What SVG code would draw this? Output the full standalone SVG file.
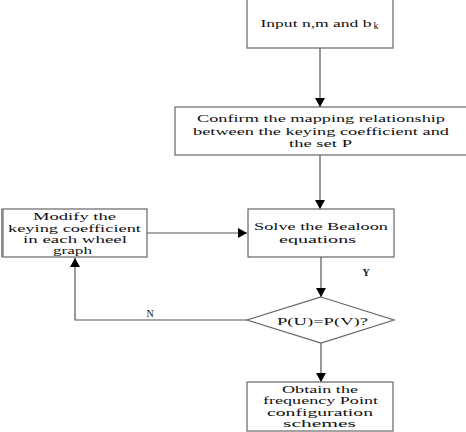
<svg xmlns="http://www.w3.org/2000/svg" width="466" height="432" viewBox="0 0 466 432">
<style>
.box{fill:#fff;stroke:#666;stroke-width:1.2}
.t{font-family:"Liberation Serif","Times New Roman",serif;font-size:10px;fill:#111;text-anchor:middle}
.ln{fill:none;stroke:#555;stroke-width:1.2}
</style>
<defs>
<marker id="ah" markerWidth="10" markerHeight="10" refX="9" refY="5" orient="auto" markerUnits="userSpaceOnUse">
<path d="M0,0 L9,5 L0,10 Z" fill="#000"/>
</marker>
</defs>
<rect width="466" height="432" fill="#fff"/>
<g id="connectors">
<line class="ln" x1="320" y1="48" x2="320" y2="107" marker-end="url(#ah)"/>
<line class="ln" x1="320" y1="155" x2="320" y2="209" marker-end="url(#ah)"/>
<line class="ln" x1="147" y1="233" x2="247" y2="233" marker-end="url(#ah)"/>
<line class="ln" x1="321" y1="257" x2="321" y2="297" marker-end="url(#ah)"/>
<polyline class="ln" points="247,320 75,320 75,258" marker-end="url(#ah)"/>
<line class="ln" x1="321" y1="343" x2="321" y2="382" marker-end="url(#ah)"/>
<text class="t" x="366" y="276" font-weight="bold" font-size="11">Y</text>
<text class="t" x="150" y="317" font-size="11">N</text>
</g>
<g id="input">
<rect class="box" x="247" y="-2" width="146" height="50"/>
<text class="t" x="316" y="27" textLength="111" lengthAdjust="spacingAndGlyphs">Input n,m and b</text>
<text class="t" x="376" y="29" font-size="7">k</text>
</g>
<g id="confirm">
<rect class="box" x="175" y="107" width="300" height="48"/>
<text class="t" x="321" y="122" textLength="248" lengthAdjust="spacingAndGlyphs">Confirm the mapping relationship</text>
<text class="t" x="321" y="134.5" textLength="256" lengthAdjust="spacingAndGlyphs">between the keying coefficient and</text>
<text class="t" x="320.5" y="147" textLength="63" lengthAdjust="spacingAndGlyphs">the set P</text>
</g>
<g id="modify">
<rect class="box" x="2" y="209" width="145" height="48"/>
<line x1="2.5" y1="209" x2="2.5" y2="257" stroke="#888" stroke-width="2.5"/>
<text class="t" x="74.5" y="220" textLength="83" lengthAdjust="spacingAndGlyphs">Modify the</text>
<text class="t" x="74.5" y="231.5" textLength="133" lengthAdjust="spacingAndGlyphs">keying coefficient</text>
<text class="t" x="75" y="243" textLength="104" lengthAdjust="spacingAndGlyphs">in each  wheel</text>
<text class="t" x="72.5" y="253.5" textLength="39" lengthAdjust="spacingAndGlyphs">graph</text>
</g>
<g id="solve">
<rect class="box" x="248" y="209" width="146" height="48"/>
<text class="t" x="321" y="229.5" textLength="134" lengthAdjust="spacingAndGlyphs">Solve the Bealoon</text>
<text class="t" x="317.5" y="242.5" textLength="77" lengthAdjust="spacingAndGlyphs">equations</text>
</g>
<g id="decision">
<polygon class="box" points="321,297 394,320 321,343 247,320"/>
<text class="t" x="322.5" y="324.5" textLength="91" lengthAdjust="spacingAndGlyphs">P(U)=P(V)?</text>
</g>
<g id="obtain">
<rect class="box" x="247" y="382" width="146" height="49"/>
<text class="t" x="320" y="393" textLength="76" lengthAdjust="spacingAndGlyphs">Obtain the</text>
<text class="t" x="320.5" y="404" textLength="115" lengthAdjust="spacingAndGlyphs">frequency Point</text>
<text class="t" x="320" y="415.5" textLength="106" lengthAdjust="spacingAndGlyphs">configuration</text>
<text class="t" x="319.5" y="426.5" textLength="73" lengthAdjust="spacingAndGlyphs">schemes</text>
</g>
</svg>
